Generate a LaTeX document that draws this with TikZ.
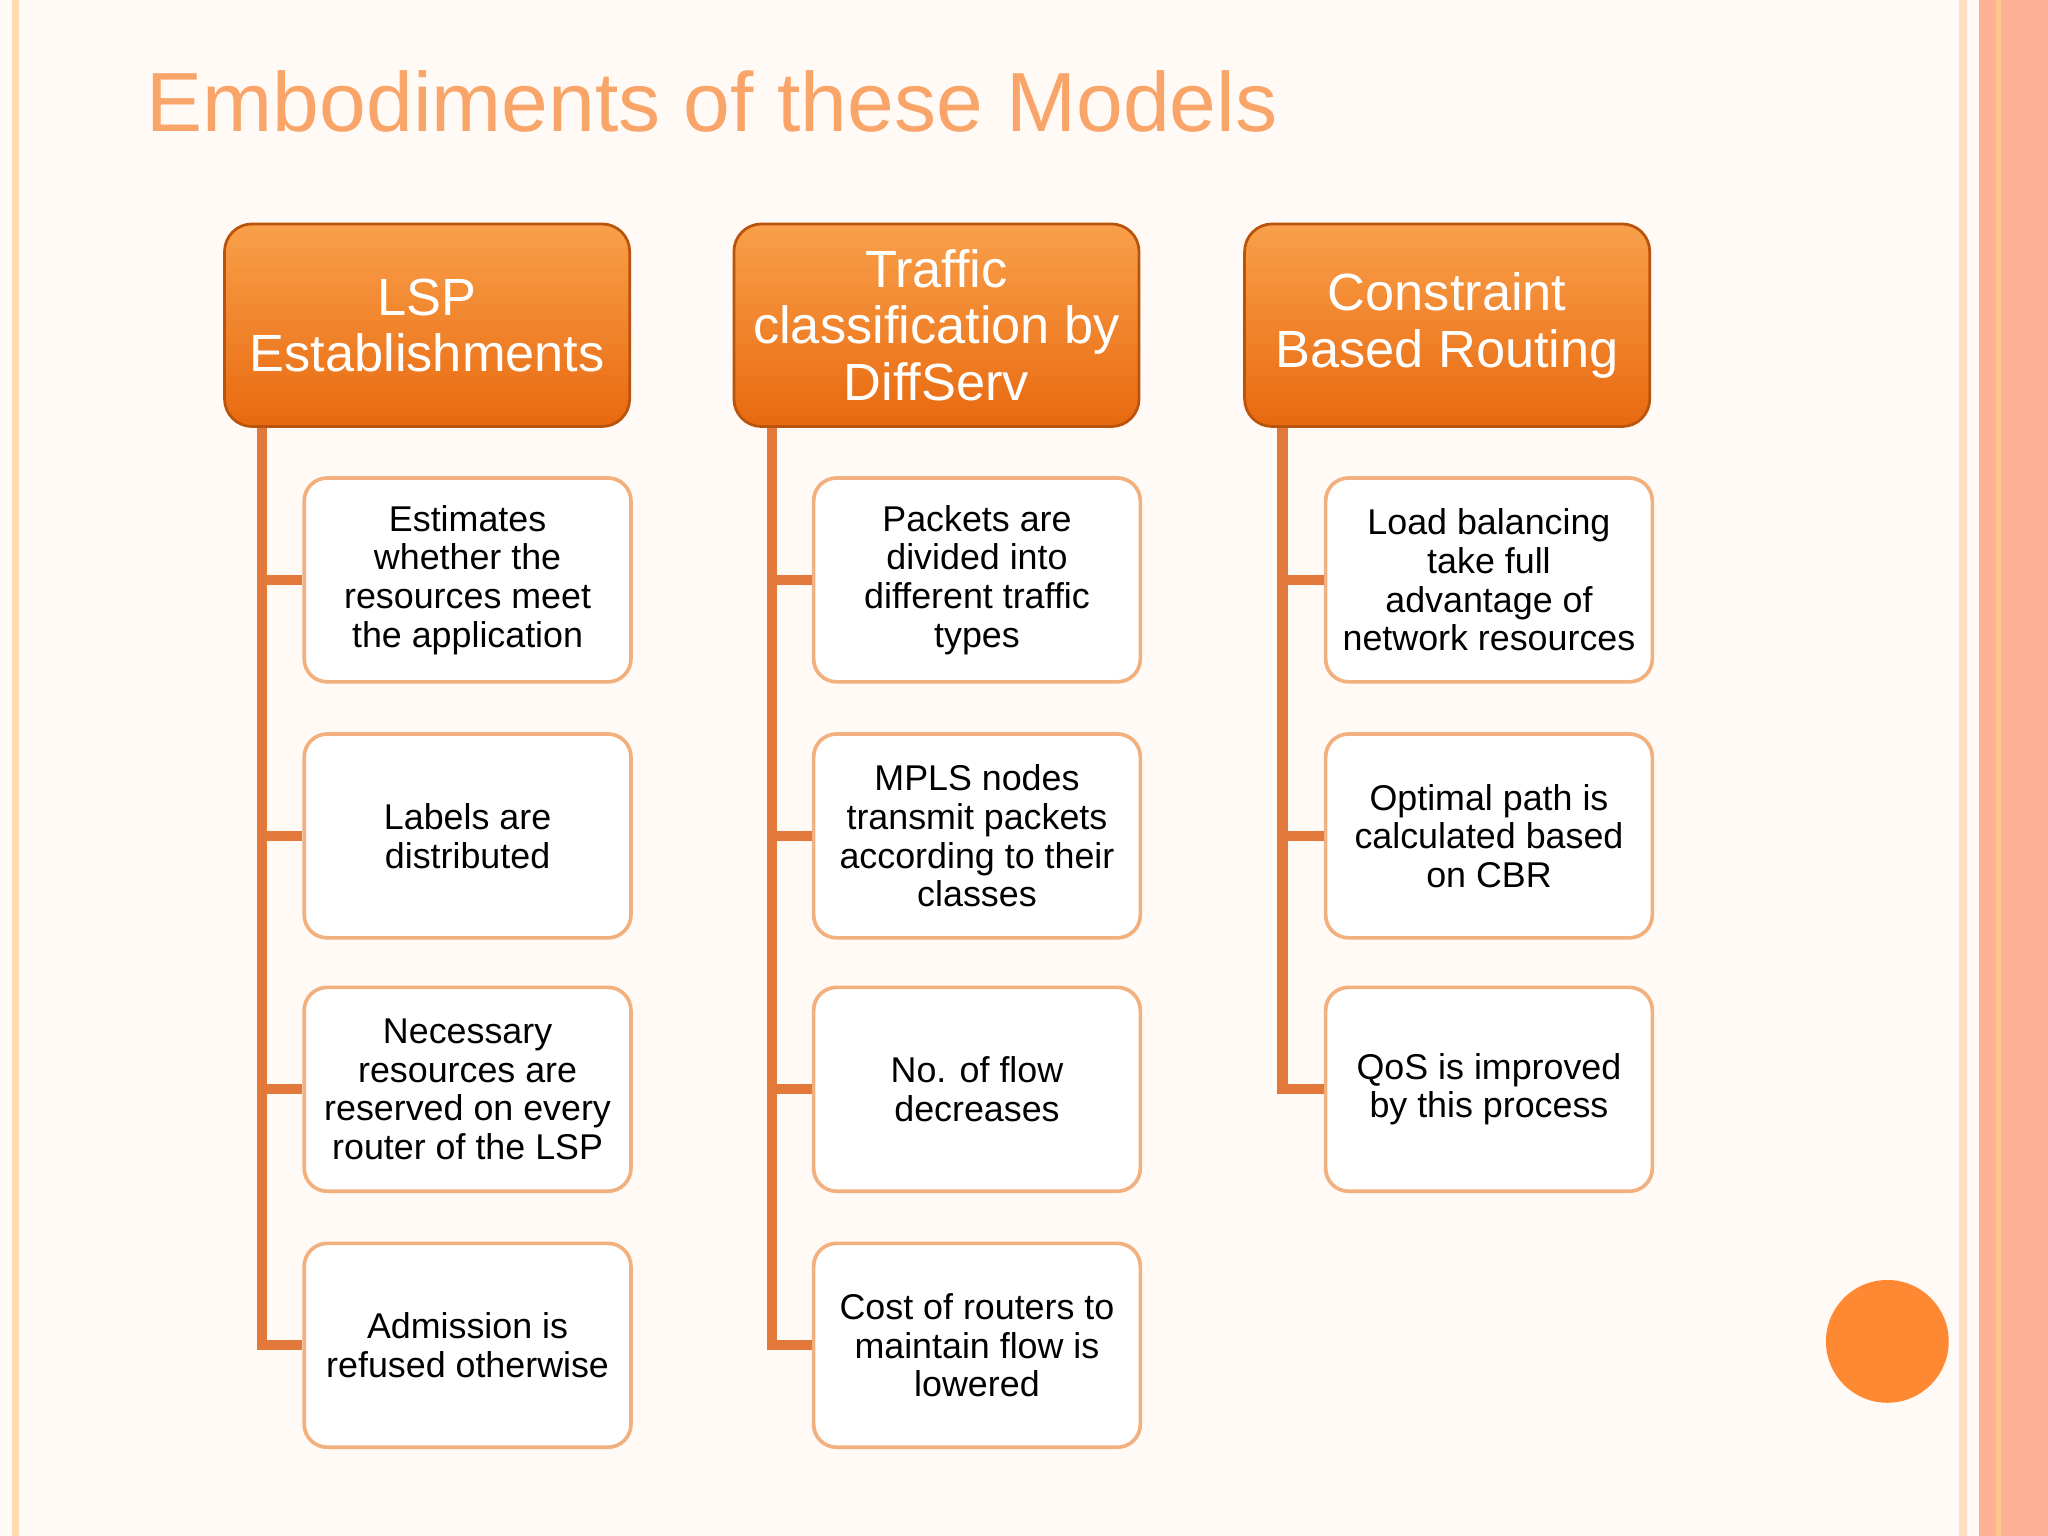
\documentclass[tikz,border=0pt]{standalone}
\usepackage{fontspec}
\setmainfont{Liberation Sans}
\definecolor{hdtop}{HTML}{F9A04A}
\definecolor{hdbot}{HTML}{E8690F}
\definecolor{bord}{HTML}{F2B07E}
\definecolor{linec}{HTML}{E2793A}
\definecolor{titlec}{HTML}{F9A56A}
\definecolor{circ}{HTML}{FF8833}
\begin{document}
\begin{tikzpicture}[x=0.01cm,y=-0.01cm,
 hd/.style={rounded corners=6pt,top color=hdtop,bottom color=hdbot,draw=hdbot!80!black,line width=0.6pt,inner sep=0pt,
   minimum width=3.1cm,minimum height=1.55cm,align=center,text=white,
   font=\fontsize{11.4}{12.3}\selectfont},
 ch/.style={rounded corners=5pt,fill=white,draw=bord,line width=0.8pt,inner sep=0pt,minimum width=2.5cm,minimum height=1.56cm,
   align=center,font=\fontsize{7.8}{8.4}\selectfont},
 br/.style={draw=linec,line width=2.2pt}]
\useasboundingbox (0,0) rectangle (1568,1176);
\fill[white!96!orange] (0,0) rectangle (1568,1176);
\draw[orange!30,line width=1.5pt] (12,0) -- (12,1176);
\fill[orange!25] (1500,0) rectangle (1506,1176);
\fill[orange!22!pink] (1515,0) rectangle (1568,1176);
\draw[orange!45,line width=1pt] (1530,0)--(1530,1176);
\node[anchor=west,text=titlec,font=\fontsize{18.3}{20}\selectfont] (title) at (100,78) {Embodiments of these Models};
\foreach \i/\x/\t in {1/327/{LSP\\Establishments},2/717/{Traffic\\classification by\\DiffServ},3/1108/{Constraint\\Based Routing}}{
  \node[hd] (h\i) at (\x,249) {\t};
}
\foreach \c/\x in {1/358,2/748,3/1140}{
 \foreach \r/\y in {1/444,2/640,3/834,4/1030}{ \coordinate (p\c\r) at (\x,\y); }}
\node[ch] (a1) at (p11) {Estimates\\whether the\\resources meet\\the application};
\node[ch] (a2) at (p12) {Labels are\\distributed};
\node[ch] (a3) at (p13) {Necessary\\resources are\\reserved on every\\router of the LSP};
\node[ch] (a4) at (p14) {Admission is\\refused otherwise};
\node[ch] (b1) at (p21) {Packets are\\divided into\\different traffic\\types};
\node[ch] (b2) at (p22) {MPLS nodes\\transmit packets\\according to their\\classes};
\node[ch] (b3) at (p23) {No. of flow\\decreases};
\node[ch] (b4) at (p24) {Cost of routers to\\maintain flow is\\lowered};
\node[ch] (c1) at (p31) {Load balancing\\take full\\advantage of\\network resources};
\node[ch] (c2) at (p32) {Optimal path is\\calculated based\\on CBR};
\node[ch] (c3) at (p33) {QoS is improved\\by this process};
\foreach \h/\k/\n in {h1/a/4,h2/b/4,h3/c/3}{
  \draw[br] ([xshift=0.3cm]\h.south west) |- (\k\n.west);
  \foreach \j in {1,...,\n}{ \draw[br] ([xshift=0.3cm]\h.south west |- \k\j.west) -- (\k\j.west); }
}
\fill[circ] (1445,1027) circle (47);
\end{tikzpicture}
\end{document}
